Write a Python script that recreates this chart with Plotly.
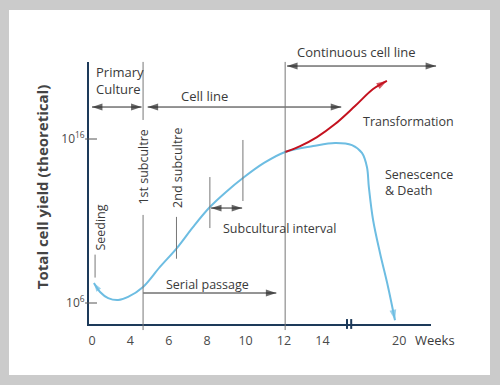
import plotly.graph_objects as go

# ---------------- data ----------------
# x is the position along the (non-uniform) week axis, y is log10(total cell yield)
x_tick_pos = [0, 1, 2, 3, 4, 5, 6, 8]
x_tick_labels = ["0", "4", "6", "8", "10", "12", "14", "20"]
y_tick_pos = [6, 16]
y_tick_labels = ["10<sup>6</sup>", "10<sup>16</sup>"]

normal_x = [0.05, 0.21, 0.42, 0.68, 0.94, 1.33, 1.77, 2.21, 2.63, 3.07, 3.49, 3.93,
            4.48, 5.03, 5.76, 6.33, 6.77, 7.03, 7.16, 7.21, 7.32, 7.50, 7.71, 7.89]
normal_y = [7.22, 6.67, 6.30, 6.18, 6.37, 6.98, 8.20, 9.35, 10.63, 11.85, 12.77, 13.62,
            14.54, 15.21, 15.57, 15.76, 15.63, 15.15, 14.29, 13.07, 11.06, 9.05, 6.98, 4.95]

transform_x = [5.03, 5.42, 5.86, 6.33, 6.85, 7.32, 7.68]
transform_y = [15.21, 15.57, 16.12, 16.91, 18.01, 19.05, 19.55]

# ---------------- layout geometry ----------------
W, H = 500, 385
PX0, PXS = 92.0, 38.4      # pixel of x=0, pixels per x unit
PY6, PYS = 303.0, 16.4     # pixel of y=6, pixels per decade
BOX_L, BOX_R, BOX_T, BOX_B = 89, 431, 62, 324

x_full = [-PX0 / PXS, (W - PX0) / PXS]
y_full = [6 - (H - PY6) / PYS, 6 + PY6 / PYS]
x_box = [(BOX_L - PX0) / PXS, (BOX_R - PX0) / PXS]
y_box = [6 - (BOX_B - PY6) / PYS, 6 + (PY6 - BOX_T) / PYS]

BLUE = "#6dbde2"
RED = "#c4121f"
NAVY = "#1d3a5a"
TXT = "#3a3a3a"
LINE = "#777777"
ARR = "#2a2a2a"
FONT = "Open Sans"

fig = go.Figure()

fig.add_trace(go.Scatter(
    x=normal_x, y=normal_y, mode="lines", line=dict(color=BLUE, width=2, shape="spline", smoothing=1.0),
    hoverinfo="skip", showlegend=False, cliponaxis=False))
# arrow head at the end of the normal curve
fig.add_trace(go.Scatter(
    x=normal_x[-2:], y=normal_y[-2:], mode="markers",
    marker=dict(symbol="arrow", angleref="previous", size=[0, 11], color=BLUE, line=dict(width=0)),
    hoverinfo="skip", showlegend=False, cliponaxis=False))
# small arrow head at the seeding point (pointing back to the start)
fig.add_trace(go.Scatter(
    x=normal_x[1::-1], y=normal_y[1::-1], mode="markers",
    marker=dict(symbol="arrow", angleref="previous", size=[0, 9], color=BLUE, line=dict(width=0)),
    hoverinfo="skip", showlegend=False, cliponaxis=False))
fig.add_trace(go.Scatter(
    x=transform_x, y=transform_y, mode="lines", line=dict(color=RED, width=2, shape="spline"),
    hoverinfo="skip", showlegend=False, cliponaxis=False))
fig.add_trace(go.Scatter(
    x=transform_x[-2:], y=transform_y[-2:], mode="markers",
    marker=dict(symbol="arrow", angleref="previous", size=[0, 11], color=RED, line=dict(width=0)),
    hoverinfo="skip", showlegend=False, cliponaxis=False))
# carrier trace for the visible axes
fig.add_trace(go.Scatter(x=[0], y=[6], xaxis="x2", yaxis="y2", mode="markers",
                         marker=dict(opacity=0), hoverinfo="skip", showlegend=False))


def arrow(x0, x1, y, both=True):
    fig.add_trace(go.Scatter(
        x=[x0, x1], y=[y, y], mode="lines+markers", line=dict(color=ARR, width=1),
        marker=dict(symbol="arrow", angle=[270, 90], size=[11 if both else 0, 11],
                    color=ARR, line=dict(width=0)),
        hoverinfo="skip", showlegend=False, cliponaxis=False))


arrow(0.0, 1.29, 17.95)
arrow(1.45, 6.49, 17.95)
arrow(5.08, 8.96, 20.45)
arrow(3.10, 3.91, 11.79)
arrow(1.33, 4.80, 6.61, both=False)

shapes = []
# white panel
shapes.append(dict(type="rect", xref="paper", yref="paper", x0=9 / W, x1=490 / W,
                   y0=(H - 375) / H, y1=(H - 10) / H, fillcolor="white", line=dict(width=0), layer="below"))


def vline(x, y0, y1, color=LINE, width=1):
    shapes.append(dict(type="line", xref="x", yref="y", x0=x, x1=x, y0=y0, y1=y1,
                       line=dict(color=color, width=width)))


def hline(y, x0, x1, color=LINE, width=1):
    shapes.append(dict(type="line", xref="x", yref="y", x0=x0, x1=x1, y0=y, y1=y,
                       line=dict(color=color, width=width)))


vline(1.33, 17.16, 20.70)       # 1st subculture (upper)
vline(1.33, 4.35, 11.37)        # 1st subculture (lower)
vline(2.20, 8.70, 11.25)        # 2nd subculture
vline(0.08, 7.55, 8.95)         # seeding
vline(3.07, 10.57, 13.68)       # subcultural interval
vline(3.93, 12.22, 15.94)
vline(5.03, 4.35, 20.70)        # 12 weeks
# y tick marks crossing the axis
for yv in y_tick_pos:
    hline(yv, -0.18, 0.13, color="#555555")
# axis break
vline(6.64, 4.42, 5.02, color=NAVY, width=2)
vline(6.75, 4.42, 5.02, color=NAVY, width=2)

annotations = []


def text(x, y, s, size=13, angle=0, xanchor="center", align="left", color=TXT):
    annotations.append(dict(x=x, y=y, xref="x", yref="y", text=s, showarrow=False,
                            textangle=angle, xanchor=xanchor, yanchor="middle", align=align,
                            font=dict(family=FONT, size=size, color=color)))


text(0.05, 19.54, "Primary<br>Culture", xanchor="left")
text(2.94, 18.62, "Cell line")
text(6.90, 21.30, "Continuous cell line")
text(7.00, 17.04, "Transformation", xanchor="left", size=12.5)
text(7.58, 13.32, "Senescence<br>& Death", xanchor="left", size=12.5)
text(1.33, 14.26, "1st subcultre", size=12.5, angle=-90)
text(2.21, 14.23, "2nd subcultre", size=12.5, angle=-90)
text(0.21, 10.60, "Seeding", size=12.5, angle=-90)
text(3.36, 10.57, "Subcultural interval", size=12.5, xanchor="left")
text(3.02, 7.10, "Serial passage", size=12.5)
text(8.93, 3.74, "Weeks", size=13)
annotations.append(dict(x=-1.30, y=13.07, xref="x", yref="y", text="<b>Total cell yield (theoretical)</b>",
                        showarrow=False, textangle=-90, font=dict(family=FONT, size=15, color="#444444")))

fig.update_layout(
    template="none",
    width=W, height=H, margin=dict(l=0, r=0, t=0, b=0, pad=0, autoexpand=False),
    paper_bgcolor="#cbcbcb", plot_bgcolor="rgba(0,0,0,0)",
    showlegend=False, shapes=shapes, annotations=annotations,
    xaxis=dict(domain=[0, 1], range=x_full, visible=False, fixedrange=True, automargin=False),
    yaxis=dict(domain=[0, 1], range=y_full, visible=False, fixedrange=True, automargin=False),
    xaxis2=dict(domain=[BOX_L / W, BOX_R / W], range=x_box, anchor="y2", showline=True,
                linecolor=NAVY, linewidth=2, showgrid=False, zeroline=False, ticks="",
                tickvals=x_tick_pos, ticktext=x_tick_labels, automargin=False, ticklabelstandoff=4,
                tickfont=dict(family=FONT, size=12.5, color="#4a4a4a"), fixedrange=True),
    yaxis2=dict(domain=[(H - BOX_B) / H, (H - BOX_T) / H], range=y_box, anchor="x2", showline=True,
                linecolor=NAVY, linewidth=2, showgrid=False, zeroline=False, ticks="",
                tickvals=y_tick_pos, ticktext=y_tick_labels, automargin=False,
                tickfont=dict(family=FONT, size=12, color="#4a4a4a"), fixedrange=True),
)

fig.write_html("out.html", config={"displayModeBar": False, "staticPlot": True},
               post_script="document.body.style.margin='0';document.body.style.padding='0';"
                           "document.body.style.overflow='hidden';")
